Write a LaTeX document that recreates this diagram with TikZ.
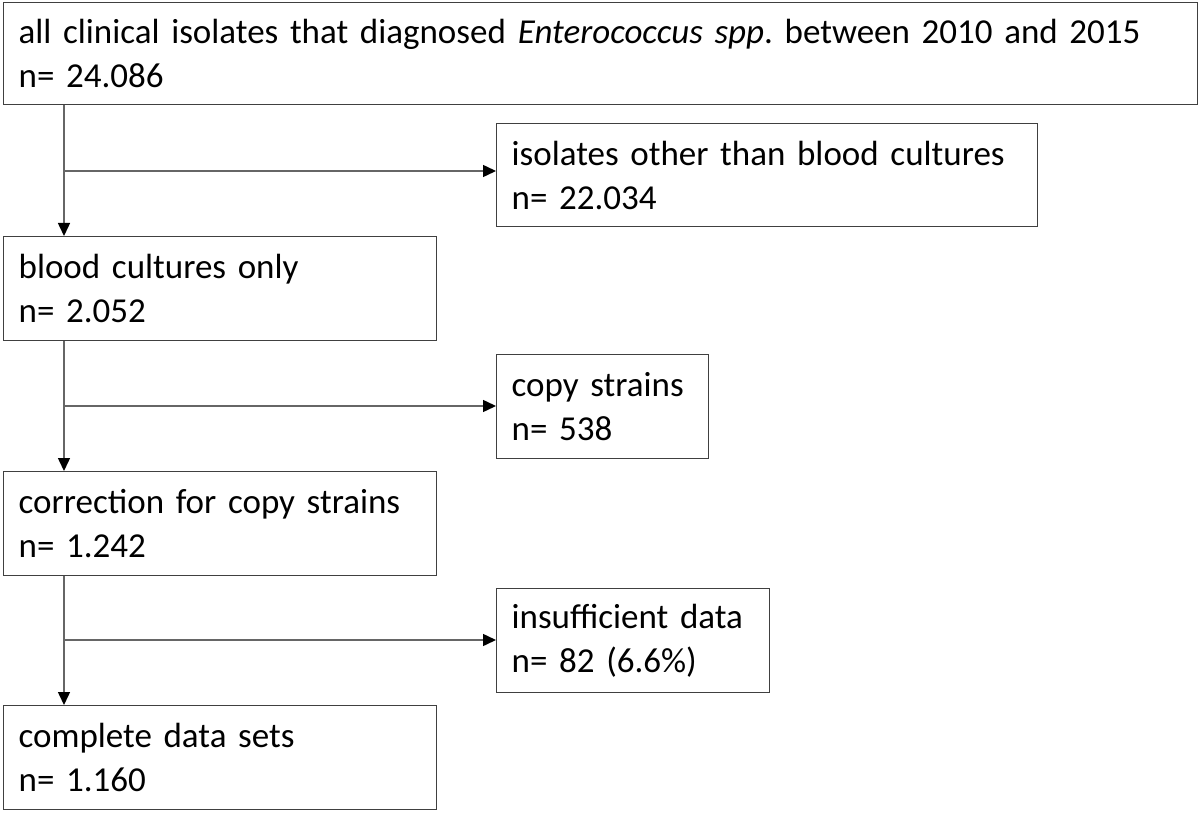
\documentclass[tikz,border=0pt]{standalone}
\usepackage{fontspec}
\setmainfont{Carlito}
\usetikzlibrary{arrows.meta}
\frenchspacing

\tikzset{
	box/.style={draw=black!75, line width=1.3pt, anchor=north west, inner xsep=15pt, inner ysep=0pt,
		align=left, font=\fontsize{35}{44}\selectfont},
	arr/.style={draw=black!60, line width=1.5pt, -{Triangle[length=13pt,width=12pt,fill=black,color=black]}}
}

\begin{document}
\begin{tikzpicture}[x=1pt,y=-1pt]
		\useasboundingbox (0,0) rectangle (1200,813);
		% boxes, left column
		\node[box, text width=1164pt, minimum height=102pt] (all) at (3,2)
		{all clinical isolates that diagnosed \textit{Enterococcus spp}. between 2010 and 2015\\n= 24.086};
		\node[box, text width=403pt, minimum height=104pt] (blood) at (3,236)
		{blood cultures only\\n= 2.052};
		\node[box, text width=403pt, minimum height=104pt] (corr) at (3,471)
		{correction for copy strains\\n= 1.242};
		\node[box, text width=403pt, minimum height=104pt] (complete) at (3,705)
		{complete data sets\\n= 1.160};
		% boxes, right column
		\node[box, text width=511pt, minimum height=103pt] (other) at (496,123)
		{isolates other than blood cultures\\n= 22.034};
		\node[box, text width=182pt, minimum height=104pt] (copy) at (496,354)
		{copy strains\\n= 538};
		\node[box, text width=243pt, minimum height=104pt] (insuff) at (496,588)
		{insufficient data\\n= 82 (6.6\%)};
		% edit here for the branch points
		\coordinate (j1) at (64,171);
		\coordinate (j2) at (64,406);
		\coordinate (j3) at (64,640);
		\draw[arr] (all.south -| j1) -- (blood.north -| j1);
		\draw[arr] (blood.south -| j2) -- (corr.north -| j2);
		\draw[arr] (corr.south -| j3) -- (complete.north -| j3);
		\draw[arr] (j1) -- (other.west |- j1);
		\draw[arr] (j2) -- (copy.west |- j2);
		\draw[arr] (j3) -- (insuff.west |- j3);
	\end{tikzpicture}
\end{document}
